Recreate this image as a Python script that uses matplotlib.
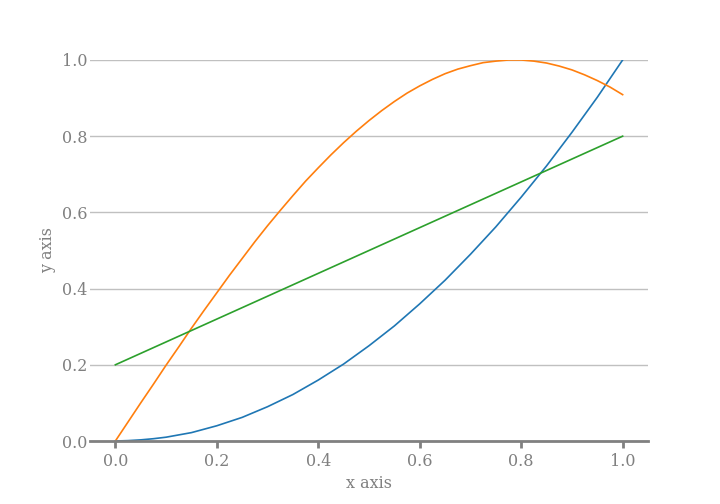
import matplotlib
matplotlib.use("Agg")
import matplotlib.pyplot as plt

# values
x_vals = [0.0, 0.025, 0.05, 0.075, 0.1, 0.125, 0.15, 0.175, 0.2, 0.225, 0.25,
          0.275, 0.3, 0.325, 0.35, 0.375, 0.4, 0.425, 0.45, 0.475, 0.5,
          0.525, 0.55, 0.575, 0.6, 0.625, 0.65, 0.675, 0.7, 0.725, 0.75,
          0.775, 0.8, 0.825, 0.85, 0.875, 0.9, 0.925, 0.95, 0.975, 1.0]
blue_vals = [0.0, 0.001, 0.003, 0.006, 0.01, 0.016, 0.022, 0.031, 0.04, 0.051, 0.062,
             0.076, 0.09, 0.106, 0.122, 0.141, 0.16, 0.181, 0.202, 0.226, 0.25,
             0.276, 0.302, 0.331, 0.36, 0.391, 0.422, 0.456, 0.49, 0.526, 0.562,
             0.601, 0.64, 0.681, 0.722, 0.766, 0.81, 0.856, 0.902, 0.951, 1.0]
orange_vals = [0.0, 0.05, 0.1, 0.149, 0.199, 0.247, 0.296, 0.343, 0.389, 0.435, 0.479,
               0.523, 0.565, 0.605, 0.644, 0.682, 0.717, 0.751, 0.783, 0.813, 0.841,
               0.867, 0.891, 0.913, 0.932, 0.949, 0.964, 0.976, 0.985, 0.993, 0.997,
               1.0, 1.0, 0.997, 0.992, 0.984, 0.974, 0.961, 0.946, 0.929, 0.909]
green_x = [0.0, 1.0]
green_vals = [0.2, 0.8]

y_ticks = [0.0, 0.2, 0.4, 0.6, 0.8, 1.0]
x_ticks = [0.0, 0.2, 0.4, 0.6, 0.8, 1.0]

txt = "#808080"
plt.rcParams['font.family'] = ['DejaVu Serif']

fig = plt.figure(figsize=(7.2, 5.04), dpi=100)
ax = fig.add_axes([0.125, 0.125, 0.775, 0.756])

ax.plot(x_vals, blue_vals, color="#1f77b4", linewidth=1.2)
ax.plot(x_vals, orange_vals, color="#ff7f0e", linewidth=1.2)
ax.plot(green_x, green_vals, color="#2ca02c", linewidth=1.2)

ax.set_xlim(-0.05, 1.05)
ax.set_ylim(0, 1.0)
ax.set_xticks(x_ticks)
ax.set_yticks(y_ticks)
ax.set_xticklabels([f"{t:.1f}" for t in x_ticks])
ax.set_yticklabels([f"{t:.1f}" for t in y_ticks])

ax.grid(True, axis='y', color="#c0c0c0", linewidth=1)
ax.set_axisbelow(True)
for s in ['top', 'right', 'left']:
    ax.spines[s].set_visible(False)
ax.spines['bottom'].set_color(txt)
ax.spines['bottom'].set_linewidth(2)
ax.spines['bottom'].set_zorder(5)

ax.tick_params(axis='x', colors=txt, length=5, width=2, labelsize=11.5, pad=4)
ax.tick_params(axis='y', colors=txt, length=0, labelsize=11.5, pad=2)

ax.set_xlabel("x axis", color=txt, fontsize=11.5, labelpad=3)
ax.set_ylabel("y axis", color=txt, fontsize=11.5, labelpad=4)

fig.savefig("out.png", dpi=100)
